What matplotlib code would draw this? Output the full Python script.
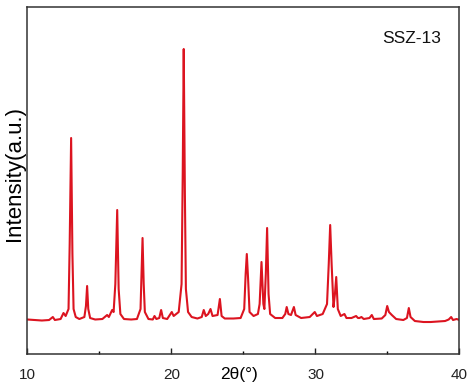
import matplotlib
matplotlib.use("Agg")
import matplotlib.pyplot as plt
from matplotlib.ticker import MultipleLocator

plt.rcParams['font.family'] = ['Liberation Sans', 'DejaVu Sans']

two_theta = [
    10.0, 10.5, 11.0, 11.5, 11.76, 11.9, 12.3, 12.5, 12.65, 12.85,
    12.93, 13.03, 13.12, 13.2, 13.35, 13.6, 13.95, 14.06, 14.14, 14.22,
    14.35, 14.7, 15.2, 15.53, 15.65, 15.88, 15.98, 16.1, 16.23, 16.33,
    16.45, 16.7, 17.2, 17.6, 17.85, 17.92, 17.99, 18.07, 18.15, 18.4,
    18.7, 18.82, 18.95, 19.15, 19.28, 19.4, 19.7, 20.02, 20.15, 20.5,
    20.7, 20.78, 20.85, 20.93, 21.0, 21.15, 21.4, 21.8, 22.1, 22.24,
    22.38, 22.55, 22.71, 22.85, 23.2, 23.36, 23.48, 23.7, 24.3, 24.8,
    25.05, 25.15, 25.23, 25.32, 25.42, 25.7, 26.0, 26.12, 26.25, 26.38,
    26.45, 26.55, 26.64, 26.74, 26.85, 27.2, 27.7, 27.9, 28.0, 28.12,
    28.3, 28.5, 28.62, 29.0, 29.6, 29.95, 30.1, 30.5, 30.8, 30.92,
    31.02, 31.12, 31.25, 31.35, 31.44, 31.55, 31.75, 32.01, 32.15, 32.5,
    32.82, 32.95, 33.05, 33.19, 33.35, 33.75, 33.91, 34.05, 34.6, 34.85,
    34.98, 35.1, 35.3, 35.6, 36.1, 36.35, 36.48, 36.6, 36.9, 37.5,
    38.0, 38.5, 39.0, 39.25, 39.42, 39.55, 39.8, 40.0,
]
intensity = [
    345, 340, 335, 340, 370, 340, 350, 410, 380, 450,
    1100, 2160, 1000, 450, 370, 350, 370, 480, 680, 450,
    360, 345, 350, 390, 370, 440, 420, 700, 1440, 650,
    400, 350, 345, 350, 450, 800, 1160, 700, 420, 350,
    345, 380, 350, 360, 440, 360, 350, 420, 380, 420,
    700, 1800, 3050, 1600, 650, 420, 370, 355, 370, 440,
    380, 400, 450, 380, 390, 550, 380, 355, 355, 360,
    450, 800, 1000, 750, 420, 380, 400, 500, 920, 500,
    450, 800, 1260, 600, 400, 360, 360, 400, 470, 400,
    390, 470, 390, 360, 370, 420, 380, 400, 500, 900,
    1290, 900, 470, 600, 770, 450, 380, 400, 360, 360,
    380, 360, 360, 370, 350, 360, 390, 350, 355, 390,
    480, 420, 390, 350, 340, 360, 460, 370, 330, 320,
    320, 325, 330, 345, 370, 340, 350, 340,
]
x_ticks = [10, 20, 30, 40]
sample_label = "SSZ-13"

fig = plt.figure(figsize=(4.74, 3.91), dpi=100)
ax = fig.add_axes([0.058, 0.0946, 0.9114, 0.8875])
ax.plot(two_theta, intensity, color='#dc1420', lw=1.5)

ax.set_xlim(10, 40)
ax.set_ylim(0, 3470)
ax.set_xticks(x_ticks)
ax.xaxis.set_minor_locator(MultipleLocator(5))
ax.set_yticks([])
ax.tick_params(axis='x', which='major', direction='in', length=4, width=1.0,
               labelsize=11, pad=10, colors='#222222')
ax.tick_params(axis='x', which='minor', direction='in', length=2.5, width=1.0)
for s in ax.spines.values():
    s.set_linewidth(1.1)
    s.set_color('#333333')

ax.set_xlabel("2θ(°)", fontsize=12.5)
ax.xaxis.set_label_coords(0.49, -0.038)
ax.set_ylabel("Intensity(a.u.)", fontsize=16)
ax.yaxis.set_label_coords(-0.006, 0.52)
ax.text(0.8206, 0.908, sample_label, transform=ax.transAxes, fontsize=12.5,
        ha='left', va='center', color='#111111')

fig.savefig("out.png", dpi=100)
